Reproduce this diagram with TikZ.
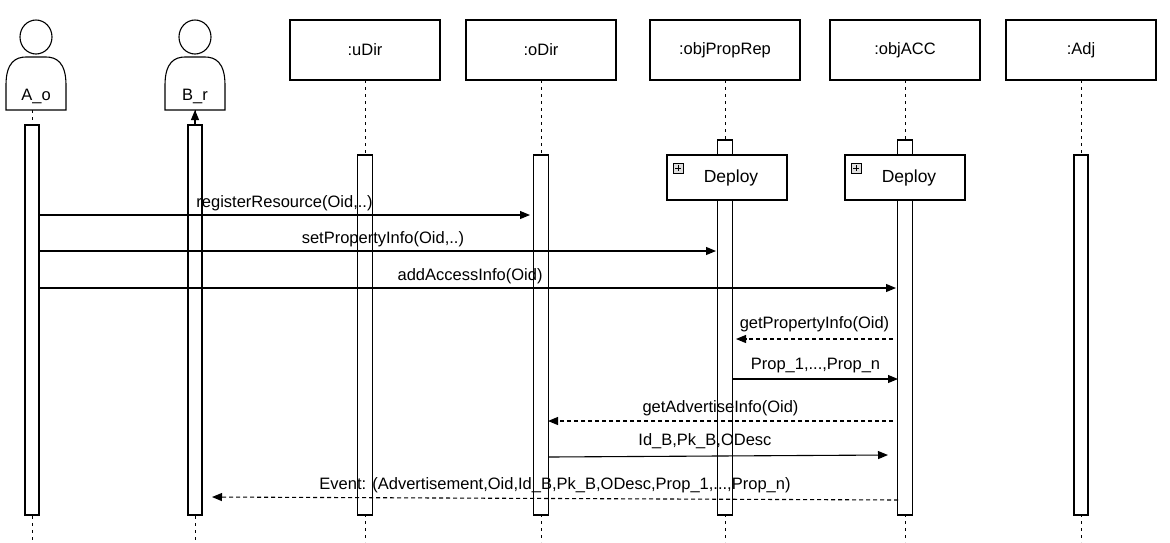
\documentclass[tikz,border=0pt]{standalone}
\usepackage{fontspec}
\setmainfont{Liberation Sans}
\usetikzlibrary{arrows.meta}
\begin{document}
\begin{tikzpicture}[x=1pt,y=-1pt,line width=1.1pt,
  box/.style={draw,fill=white,minimum width=150pt,minimum height=60pt,font=\fontsize{16.5}{19}\selectfont},
  act/.style={draw,fill=white},
  life/.style={line width=1pt,dash pattern=on 3pt off 4pt},
  msg/.style={-{Triangle[length=10pt,width=8pt]}},
  ret/.style={msg,dash pattern=on 4pt off 3pt},
  lbl/.style={font=\fontsize{16.5}{19}\selectfont,inner sep=0pt}]
\useasboundingbox (0,0) rectangle (1170,542);
% actors
\foreach \n/\cx/\lx/\t in {ao/36/32/A\_o,br/195/195/B\_r}{
  \draw[life] (\lx,110) -- (\lx,542);
  \draw (\cx,37) ellipse (16pt and 17pt);
  \draw[fill=white] (\cx-30,110) -- (\cx-30,85) .. controls (\cx-30,62) and (\cx-20,57) .. (\cx-10,57)
     -- (\cx+10,57) .. controls (\cx+20,57) and (\cx+30,62) .. (\cx+30,85) -- (\cx+30,110) -- cycle;
  \node[lbl] (\n) at (\cx,96) {\t};
}
\node[act,minimum width=14pt,minimum height=390pt,inner sep=0pt] (aoa) at (32,320) {};
\node[act,minimum width=14pt,minimum height=390pt,inner sep=0pt] (bra) at (195,320) {};
\coordinate (brtop) at (195,110);
\draw[msg] (bra.north) -- (brtop);
% objects
\foreach \n/\x/\t in {udir/365/:uDir,odir/541/:oDir,prop/725/:objPropRep,acc/905/:objACC,adj/1081/:Adj}{
  \draw[life] (\x,80) -- (\x,542);
  \node[box] (\n) at (\x,50) {\t};
}
\node[act,minimum width=15pt,minimum height=360pt,inner sep=0pt] (udira) at (365,335) {};
\node[act,minimum width=15pt,minimum height=360pt,inner sep=0pt] (odira) at (541,335) {};
\node[act,minimum width=15pt,minimum height=375pt,inner sep=0pt] (propa) at (725,327.5) {};
\node[act,minimum width=15pt,minimum height=375pt,inner sep=0pt] (acca) at (905,327.5) {};
\node[act,minimum width=14pt,minimum height=360pt,inner sep=0pt] (adja) at (1081,335) {};
% deploy
\foreach \n/\x in {dp1/727,dp2/905}{
  \node[box,minimum width=120pt,minimum height=45pt,font=\fontsize{17.5}{20}\selectfont] (\n) at (\x,177.5) {\hspace*{8pt}Deploy};
  \draw[line width=0.6pt,fill=gray!25] (\x-54,163) rectangle +(10,10);
  \draw[line width=0.8pt] (\x-52,168) -- (\x-46,168) (\x-49,165) -- (\x-49,171);
}
% messages
\coordinate (m1s) at (39,215); \coordinate (m1e) at (530,215);
\draw[msg] (m1s) -- node[lbl,above=4pt,pos=0.5] {registerResource(Oid,..)} (m1e);
\coordinate (m2s) at (39,251); \coordinate (m2e) at (716,251);
\draw[msg] (m2s) -- node[lbl,above=4pt,pos=0.508] {setPropertyInfo(Oid,..)} (m2e);
\coordinate (m3s) at (39,288); \coordinate (m3e) at (896,288);
\draw[msg] (m3s) -- node[lbl,above=4pt,pos=0.503] {addAccessInfo(Oid)} (m3e);
\coordinate (m4s) at (893,339); \coordinate (m4e) at (736,339);
\draw[ret] (m4s) -- node[lbl,above=7pt,pos=0.5] {getPropertyInfo(Oid)} (m4e);
\coordinate (m5s) at (733,379); \coordinate (m5e) at (898,379);
\draw[msg] (m5s) -- node[lbl,above=6pt,pos=0.5] {Prop\_1,...,Prop\_n} (m5e);
\coordinate (m6s) at (893,421); \coordinate (m6e) at (548,421);
\draw[ret] (m6s) -- node[lbl,above=5pt,pos=0.5] {getAdvertiseInfo(Oid)} (m6e);
\coordinate (m7s) at (549,457); \coordinate (m7e) at (888,455);
\draw[msg] (m7s) -- node[lbl,above=7pt,pos=0.46] {Id\_B,Pk\_B,ODesc} (m7e);
\coordinate (m8s) at (898,500); \coordinate (m8e) at (212,497);
\draw[ret] (m8s) -- node[lbl,above=5pt,pos=0.5] {Event: (Advertisement,Oid,Id\_B,Pk\_B,ODesc,Prop\_1,...,Prop\_n)} (m8e);
\end{tikzpicture}
\end{document}
